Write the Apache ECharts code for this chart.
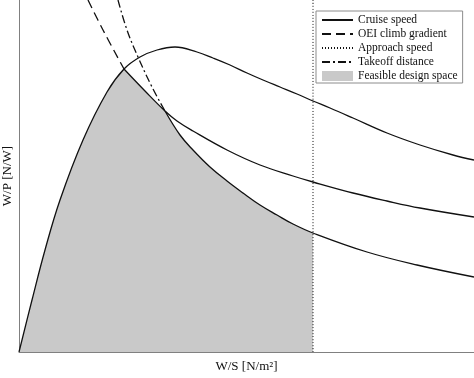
<!DOCTYPE html>
<html>
<head>
<meta charset="utf-8">
<title>Design space</title>
<script src="https://cdn.jsdelivr.net/npm/echarts@6/dist/echarts.min.js"></script>
<style>
  html, body { margin: 0; padding: 0; background: #fff; }
  #chart { width: 474px; height: 378px; }
</style>
</head>
<body>
<div id="chart"></div>
<script>
// W/S in N/m^2, W/P in N/W (no tick labels in the original)
const cruiseWS = [0, 130, 260, 410, 640, 880, 1050, 1210, 1380, 1560, 1780, 1940, 2110, 2280, 2440, 2610, 2780, 2940, 3110, 3340, 3680, 4010, 4340, 4550];
const cruiseWP = [0, 0.052, 0.102, 0.152, 0.212, 0.260, 0.283, 0.295, 0.302, 0.305, 0.300, 0.294, 0.287, 0.279, 0.272, 0.265, 0.258, 0.251, 0.244, 0.234, 0.219, 0.207, 0.197, 0.192];

const oeiWS = [690, 840, 1050, 1260, 1460, 1580, 1740, 2080, 2410, 2740, 2940, 3340, 3680, 4010, 4550];
const oeiWP = [0.352, 0.322, 0.283, 0.261, 0.241, 0.231, 0.221, 0.202, 0.187, 0.176, 0.170, 0.159, 0.151, 0.144, 0.135];

const takeoffWS = [990, 1080, 1190, 1330, 1460, 1610, 1740, 1910, 2080, 2240, 2410, 2580, 2740, 2940, 3480, 3980, 4550];
const takeoffWP = [0.352, 0.322, 0.295, 0.265, 0.241, 0.217, 0.202, 0.185, 0.171, 0.159, 0.147, 0.137, 0.128, 0.119, 0.100, 0.087, 0.075];

const approachWS = 2940;

// crossing points of the constraints (W/S)
const cruiseOeiCross = 1050;
const oeiTakeoffCross = 1460;

const wsMax = 4550;
const wpMax = 0.352;

const names = ['Cruise speed', 'OEI climb gradient', 'Approach speed', 'Takeoff distance', 'Feasible design space'];

(function () {
  const ink = '#111';
  const fill = '#c9c9c9';
  const font = 'Liberation Serif';

  const pairs = (xs, ys) => xs.map((x, i) => [x, ys[i]]);
  const between = (pts, lo, hi) => pts.filter(p => p[0] >= lo && p[0] <= hi);

  const cruise = pairs(cruiseWS, cruiseWP);
  const oei = pairs(oeiWS, oeiWP);
  const takeoff = pairs(takeoffWS, takeoffWP);

  function curve(name, data, type) {
    return {
      name: name,
      type: 'line',
      data: data,
      symbol: 'none',
      smooth: 0.4,
      color: ink,
      lineStyle: { color: ink, width: 1.3, type: type },
      z: 3,
      silent: true
    };
  }

  function feasible(data) {
    return {
      name: names[4],
      type: 'line',
      data: data,
      symbol: 'none',
      smooth: 0.4,
      color: fill,
      lineStyle: { width: 0 },
      areaStyle: { color: fill, opacity: 1 },
      z: 1,
      silent: true
    };
  }

  const series = [
    // dashed part first so the legend picks up its style; the flat tail looks solid in the print
    curve(names[1], between(oei, 0, cruiseOeiCross), [9, 5]),
    curve(names[1], between(oei, cruiseOeiCross, wsMax), 'solid'),
    curve(names[3], between(takeoff, 0, oeiTakeoffCross), [8, 3, 2, 3]),
    curve(names[3], between(takeoff, oeiTakeoffCross, wsMax), 'solid'),
    curve(names[0], cruise, 'solid'),
    curve(names[2], [[approachWS, 0], [approachWS, wpMax]], [1, 2]),
    feasible(between(cruise, 0, cruiseOeiCross)),
    feasible(between(oei, cruiseOeiCross, oeiTakeoffCross)),
    feasible(between(takeoff, oeiTakeoffCross, approachWS))
  ];
  series[5].lineStyle.width = 1;

  const axisName = { fontFamily: font, fontSize: 13, color: ink };

  const option = {
    animation: false,
    grid: { left: 19, right: 0, top: 0, bottom: 26, outerBoundsMode: 'none' },
    legend: {
      orient: 'vertical',
      left: 316,
      top: 11,
      itemWidth: 31,
      itemHeight: 10,
      itemGap: 2,
      padding: [3, 5, 1, 5],
      borderColor: '#8c8c8c',
      borderWidth: 1,
      backgroundColor: '#fff',
      selectedMode: false,
      // hide the marker circle, keep the line sample
      itemStyle: { opacity: 0 },
      textStyle: { fontFamily: font, fontSize: 11.5, color: ink },
      data: [
        names[0], names[1], names[2], names[3],
        { name: names[4], icon: 'rect', itemStyle: { color: fill, borderWidth: 0, opacity: 1 } }
      ]
    },
    xAxis: {
      type: 'value',
      min: 0,
      max: wsMax,
      name: 'W/S [N/m²]',
      nameLocation: 'middle',
      nameGap: 8,
      nameTextStyle: axisName,
      axisLine: { show: true, onZero: false, lineStyle: { color: '#808080' } },
      axisTick: { show: false },
      axisLabel: { show: false },
      splitLine: { show: false }
    },
    yAxis: {
      type: 'value',
      min: 0,
      max: wpMax,
      name: 'W/P [N/W]',
      nameLocation: 'middle',
      nameGap: 5,
      nameTextStyle: axisName,
      axisLine: { show: true, onZero: false, lineStyle: { color: '#808080' } },
      axisTick: { show: false },
      axisLabel: { show: false },
      splitLine: { show: false }
    },
    series: series
  };

  const chart = echarts.init(document.getElementById('chart'));
  chart.setOption(option);
})();
</script>
</body>
</html>
